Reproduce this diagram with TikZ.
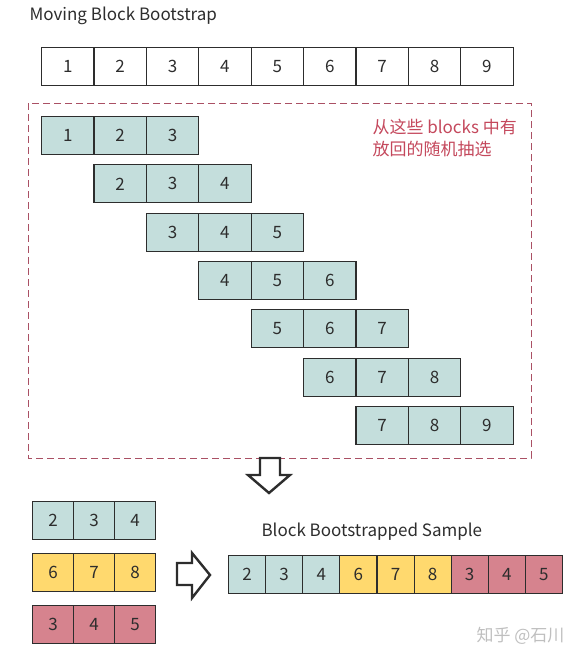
\documentclass[tikz,border=0pt]{standalone}
\usepackage{fontspec}
\setmainfont{Noto Sans CJK SC}
\definecolor{cellline}{RGB}{45,45,45}
\definecolor{tealfill}{RGB}{196,222,220}
\definecolor{goldfill}{RGB}{255,217,110}
\definecolor{rosefill}{RGB}{214,131,142}
\definecolor{notered}{RGB}{196,72,92}
\definecolor{boxdash}{RGB}{170,80,100}
\tikzset{
  cell/.style={draw=cellline, line width=1.1pt, minimum width=52.4pt, minimum height=38pt,
    inner sep=0pt, anchor=north west, text=cellline, font=\fontsize{17}{17}\selectfont},
  smallcell/.style={cell, minimum width=41pt},
  tinycell/.style={cell, minimum width=37.1pt},
  bigarrow/.style={draw=cellline, line width=2.4pt, fill=white, line join=miter},
  caption/.style={anchor=west, text=cellline, font=\fontsize{17}{17}\selectfont}
}
\begin{document}
\begin{tikzpicture}[x=1pt,y=-1pt]
  \useasboundingbox (0,0) rectangle (582,661);

  % Title
  \node[caption] (title) at (26,16) {Moving Block Bootstrap};

  % Drawing original series
  \foreach \i in {1,...,9}
    \node[cell] (t\i) at ({41+(\i-1)*52.4},47) {\i};

  % Dashed frame round the blocks
  \draw[boxdash, line width=0.9pt, dash pattern=on 7pt off 4pt] (28,103) rectangle (531,458);
  \node[anchor=north west, text=notered, align=left, font=\fontsize{17}{22}\selectfont]
    (note) at (369,116) {从这些 blocks 中有\\放回的随机抽选};

  % Drawing the moving blocks
  \foreach \k in {1,...,7}
    \foreach \j in {0,1,2} {
      \pgfmathtruncatemacro\v{\k+\j}
      \node[cell, fill=tealfill] (b\k-\j) at ({41+(\k+\j-1)*52.4},{116+(\k-1)*48.3}) {\v};
    }

  % Down arrow
  \draw[bigarrow] (260,458) -- (280,458) -- (280,475) -- (290,475) -- (269,493)
    -- (248,475) -- (260,475) -- cycle;

  % Drawing the drawn blocks
  \foreach \v [count=\j from 0] in {2,3,4}
    \node[smallcell, fill=tealfill] (p1-\j) at ({32+\j*41},501) {\v};
  \foreach \v [count=\j from 0] in {6,7,8}
    \node[smallcell, fill=goldfill] (p2-\j) at ({32+\j*41},553) {\v};
  \foreach \v [count=\j from 0] in {3,4,5}
    \node[smallcell, fill=rosefill] (p3-\j) at ({32+\j*41},605) {\v};

  % Right arrow
  \draw[bigarrow] (177,563) -- (192,563) -- (192,553) -- (210,575) -- (192,598)
    -- (192,585) -- (177,585) -- cycle;

  % Drawing the bootstrapped sample
  \node[caption] (sampletitle) at (258,532) {Block Bootstrapped Sample};
  \foreach \v/\c [count=\i from 0] in {2/tealfill,3/tealfill,4/tealfill,6/goldfill,7/goldfill,
      8/goldfill,3/rosefill,4/rosefill,5/rosefill}
    \node[tinycell, fill=\c] (s\i) at ({228+\i*37.1},555) {\v};

  % Watermark
  \node[anchor=east, text=black!25, font=\fontsize{17}{17}\selectfont] (mark) at (568,636) {知乎 @石川};
\end{tikzpicture}
\end{document}
